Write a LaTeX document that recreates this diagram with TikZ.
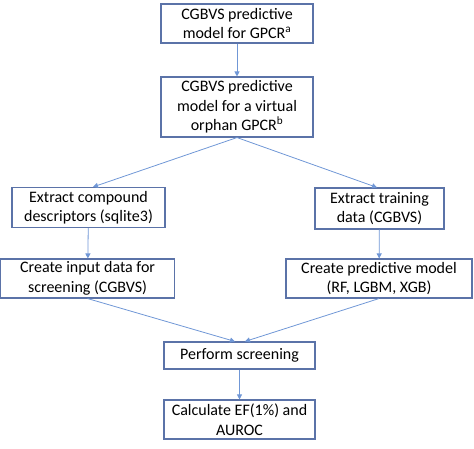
\documentclass[tikz,border=0pt]{standalone}
\usepackage{fontspec}
\setmainfont{Carlito}
\usetikzlibrary{arrows.meta}
\definecolor{boxline}{HTML}{5B73A8}
\definecolor{linkline}{HTML}{7097D6}
\tikzset{
	box/.style={draw=boxline, line width=1.1pt, inner sep=0pt, align=center, font=\fontsize{16}{19.5}\selectfont},
	link/.style={draw=linkline, line width=0.8pt, -{Triangle[width=5pt,length=5pt]}}
}

\begin{document}
\begin{tikzpicture}[x=1pt, y=-1pt]
		%%%%% START %%%%%
		
		\useasboundingbox (0, 0) rectangle (474, 448);
		
		\node[box, minimum width=152, minimum height=39] (gpcr) at (237, 23.5) {CGBVS predictive\\model for GPCR\textsuperscript{a}};
		\node[box, minimum width=152, minimum height=60] (orphan) at (237, 107) {CGBVS predictive\\model for a virtual\\orphan GPCR\textsuperscript{b}};
		
		\node[box, minimum width=153, minimum height=40] (descr) at (88.5, 207.5) {Extract compound\\descriptors (sqlite3)};
		\node[box, minimum width=174, minimum height=39] (input) at (87.6, 278.5) {Create input data for\\screening (CGBVS)};
		
		\node[box, minimum width=129, minimum height=41] (train) at (379.5, 208.5) {Extract training\\data (CGBVS)};
		\node[box, minimum width=186, minimum height=39] (model) at (379, 278.5) {Create predictive model\\(RF, LGBM, XGB)};
		
		\node[box, minimum width=151, minimum height=27] (screen) at (239.5, 355.5) {Perform screening};
		\node[box, minimum width=151, minimum height=39] (calc) at (239.5, 419.5) {Calculate EF(1\%) and\\AUROC};
		
		\draw[link] (gpcr) -- (orphan);
		\draw[link] (orphan.south) -- ([xshift=4.5]descr.north);
		\draw[link] (orphan.south) -- ([xshift=-2.5]train.north);
		\draw[link] (descr) -- (input);
		\draw[link] (train) -- (model);
		\draw[link] (input.south) -- ([xshift=-4.5]screen.north);
		\draw[link] (model.south) -- ([xshift=5.5]screen.north);
		\draw[link] (screen) -- (calc);
		
		%%%%% END %%%%%
	\end{tikzpicture}
\end{document}
